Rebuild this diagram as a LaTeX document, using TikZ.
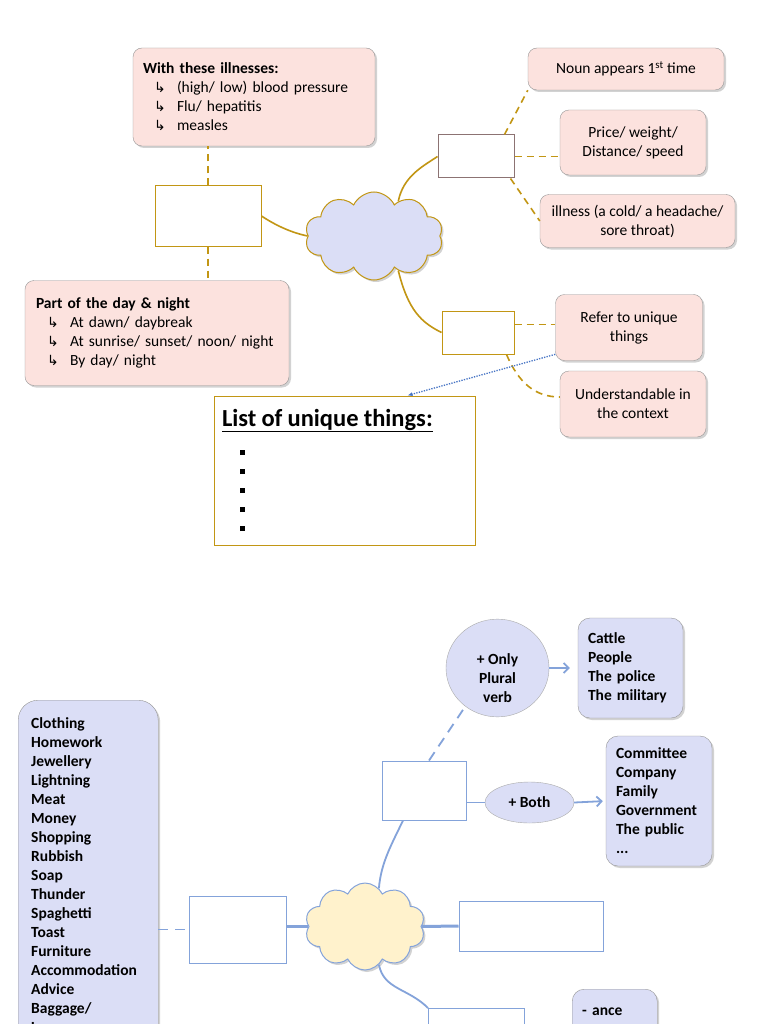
\documentclass[tikz,border=0pt]{standalone}
\usepackage{fontspec}
\setmainfont{Carlito}
\newfontfamily\arrowfont{DejaVu Sans}
\usetikzlibrary{arrows.meta,calc,positioning,shapes.geometric,shapes.symbols,shadows}
\definecolor{mmgold}{RGB}{194,150,20}
\definecolor{mmpink}{RGB}{252,226,222}
\definecolor{mmgrey}{RGB}{150,150,150}
\definecolor{mmlilac}{RGB}{219,222,246}
\definecolor{mmblue}{RGB}{132,163,218}
\definecolor{mmcream}{RGB}{255,242,204}
\definecolor{mmdot}{RGB}{68,114,196}
\definecolor{mmbrown}{RGB}{140,115,115}
\newcommand{\hookline}[1]{\hspace*{11pt}\makebox[23pt][l]{\arrowfont\fontsize{14}{14}\selectfont ↳}#1}
\newcommand{\sqbullet}{\hspace*{18pt}\rule[1pt]{5pt}{5pt}}

\begin{document}
\begin{tikzpicture}[x=1pt,y=-1pt,>=Latex,font=\fontsize{15.5}{19}\selectfont,
    shade/.style={drop shadow={opacity=0.35,shadow xshift=2pt,shadow yshift=-2pt}},
    pinkbox/.style={draw=mmgrey,fill=mmpink,rounded corners=9pt,shade,inner xsep=10pt,inner ysep=4pt},
    lilacbox/.style={draw=mmgrey,fill=mmlilac,rounded corners=12pt,shade,inner xsep=10pt,
      align=left,font=\bfseries\fontsize{15.5}{19}\selectfont},
    oval/.style={ellipse,draw=mmgrey!80,fill=mmlilac,inner sep=0pt,align=center,
      font=\bfseries\fontsize{15.5}{19}\selectfont},
    puffy/.style={cloud,cloud puffs=10,cloud puff arc=130,line width=1pt,shade},
    goldblank/.style={draw=mmgold,fill=white,line width=1pt,inner sep=0pt},
    blueblank/.style={draw=mmblue,fill=white,line width=1pt,inner sep=0pt},
    goldline/.style={draw=mmgold,line width=1.6pt},
    golddash/.style={goldline,dash pattern=on 7pt off 5pt},
    blueline/.style={draw=mmblue,line width=1.8pt},
    bluedash/.style={blueline,dash pattern=on 10pt off 7pt},
    dotarrow/.style={draw=mmdot,line width=1.3pt,dash pattern=on 1.3pt off 1.3pt,-{Latex[length=5pt,width=4pt]}}]
  \path[use as bounding box,fill=white] (0,0) rectangle (768,1024);
  \clip (0,0) rectangle (768,1024);

  % top map: definite article
  \node[puffy,aspect=1.6,draw=mmgold,fill=mmlilac,minimum width=138pt,minimum height=88pt] (cloud1) at (374,236) {};
  \node[goldblank,minimum width=106pt,minimum height=60pt] (leftq) at (208,216) {};
  \node[goldblank,draw=mmbrown,minimum width=76pt,minimum height=43pt] (tr) at (476,156.5) {};
  \node[goldblank,minimum width=72pt,minimum height=43pt] (br) at (478,332.5) {};

  \node[pinkbox,minimum width=242pt,minimum height=98pt,text width=222pt,align=left] (illbox) at (254,97)
    {\textbf{With these illnesses:}\\\hookline{(high/ low) blood pressure}\\\hookline{Flu/ hepatitis}\\\hookline{measles}};
  \node[pinkbox,minimum width=264pt,minimum height=105pt,text width=242pt,inner xsep=11pt,align=left] (daybox) at (157,333)
    {\textbf{Part of the day \& night}\\\hookline{At dawn/ daybreak}\\\hookline{At sunrise/ sunset/ noon/ night}\\\hookline{By day/ night}};
  \node[pinkbox,minimum width=196pt,minimum height=42pt,align=center] (noun) at (626,69) {Noun appears 1\textsuperscript{st} time};
  \node[pinkbox,minimum width=146pt,minimum height=65pt,align=center] (price) at (633,142.5) {Price/ weight/\\Distance/ speed};
  \node[pinkbox,minimum width=195pt,minimum height=53pt,align=center] (illness) at (637.5,221) {illness (a cold/ a headache/\\sore throat)};
  \node[pinkbox,minimum width=147pt,minimum height=66pt,align=center] (refer) at (629,327.5) {Refer to unique\\things};
  \node[pinkbox,minimum width=146pt,minimum height=66pt,align=center] (under) at (633,404) {Understandable in\\the context};
  \node[draw=mmgold,line width=1pt,minimum width=261pt,minimum height=149pt,text width=245pt,inner xsep=8pt,align=left] (uniq) at (344.5,470.5)
    {{\fontsize{24.5}{26}\selectfont\bfseries\underline{List of unique things:}}\\[11pt]
     \sqbullet\\\sqbullet\\\sqbullet\\\sqbullet\\\sqbullet};

  \draw[golddash] (leftq.north) -- (leftq.north |- illbox.south);
  \draw[golddash] (leftq.south) -- (leftq.south |- daybox.north);
  \draw[goldline] (leftq.east) .. controls +(15,10) and +(-15,-3) .. (cloud1.west);
  \draw[goldline] (cloud1.55) .. controls +(5,-25) and +(-15,10) .. (tr.west);
  \draw[goldline] (cloud1.-55) .. controls +(10,40) and +(-20,-10) .. (br.west);
  \draw[golddash] ([xshift=-10pt]tr.north east) -- (noun.south west);
  \draw[golddash] (tr.east) -- (tr.east -| price.west);
  \draw[golddash] ([xshift=-4pt]tr.south east) -- (illness.west);
  \draw[golddash] ([yshift=8pt]br.east) -- ([yshift=8pt]br.east -| refer.west);
  \draw[golddash] ([xshift=-8pt]br.south east) .. controls +(12,28) and +(-25,0) .. ([yshift=7pt]under.west);
  \draw[dotarrow] (refer.200) -- ([xshift=63pt]uniq.north);

  % bottom map: collective nouns
  \node[puffy,aspect=1.5,draw=mmblue,fill=mmcream,minimum width=120pt,minimum height=87pt] (cloud2) at (365,926.5) {};
  \node[blueblank,minimum width=84pt,minimum height=59pt] (qrect) at (424,790.5) {};
  \node[blueblank,minimum width=97pt,minimum height=67pt] (lrect) at (237.5,929.5) {};
  \node[blueblank,minimum width=144pt,minimum height=50pt] (rrect) at (531,926) {};
  \node[blueblank,minimum width=96pt,minimum height=60pt,anchor=north west] (brect) at (428,1008) {};

  \node[oval,minimum width=103pt,minimum height=92pt] (only) at (497.5,668) {\mbox{}\\[12pt]+ Only\\Plural\\verb};
  \node[oval,minimum width=89pt,minimum height=41pt] (both) at (529.5,802.5) {+ Both};
  \node[lilacbox,minimum width=105pt,minimum height=100pt,text width=85pt] (cattle) at (630.5,668)
    {Cattle\\People\\The police\\The military};
  \node[lilacbox,minimum width=106pt,minimum height=130pt,text width=86pt] (commit) at (659,801)
    {Committee\\Company\\Family\\Government\\The public\\...};
  \node[lilacbox,rounded corners=20pt,anchor=north west,minimum width=140pt,text width=114pt,inner xsep=13pt,inner ysep=17pt] (nouns) at (18,700)
    {Clothing\\Homework\\Jewellery\\Lightning\\Meat\\Money\\Shopping\\Rubbish\\Soap\\Thunder\\Spaghetti\\Toast\\Furniture\\Accommodation\\Advice\\Baggage/\\Luggage};
  \node[lilacbox,anchor=north west,minimum width=85pt,text width=65pt,inner ysep=19pt] (ance) at (572,989) {- ance\\\strut};

  \draw[bluedash] ([xshift=5pt]qrect.north) -- (only.230);
  \draw[blueline,-{Straight Barb[length=5pt]},shorten >=8pt] (only.east) -- (cattle.west);
  \draw[blueline] (qrect.east |- both.west) -- (both.west);
  \draw[blueline,-{Straight Barb[length=5pt]},shorten >=3pt] (both.east) -- (commit.west);
  \draw[blueline] ([xshift=-21pt]qrect.south) .. controls +(-12,25) and +(2,-25) .. (cloud2.70);
  \draw[blueline,line width=3pt] (lrect.east |- cloud2.west) -- (cloud2.west);
  \draw[blueline,line width=3pt] (cloud2.east) -- (rrect.west);
  \draw[blueline] (cloud2.-70) .. controls +(5,25) and +(-20,-20) .. (brect.north west);
  \draw[bluedash] (nouns.east |- lrect.west) -- (lrect.west);
\end{tikzpicture}
\end{document}
